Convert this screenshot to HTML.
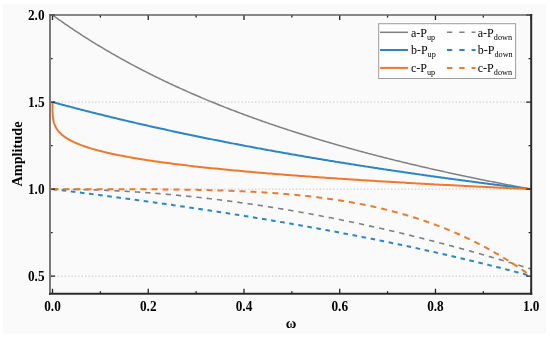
<!DOCTYPE html>
<html><head><meta charset="utf-8"><style>
html,body{margin:0;padding:0;background:#fff;}
svg{display:block;}
</style></head><body>
<svg width="550" height="341" viewBox="0 0 550 341">
<rect x="3" y="4" width="543" height="330" fill="#fafafa"/>
<line x1="51.0" y1="276.19" x2="530.2" y2="276.19" stroke="#c6c6c6" stroke-width="1" stroke-dasharray="1.4 2"/>
<line x1="51.0" y1="189.13" x2="530.2" y2="189.13" stroke="#c6c6c6" stroke-width="1" stroke-dasharray="1.4 2"/>
<line x1="51.0" y1="102.06" x2="530.2" y2="102.06" stroke="#c6c6c6" stroke-width="1" stroke-dasharray="1.4 2"/>
<path d="M52.50,189.13 L53.70,189.13 L54.90,189.14 L56.10,189.14 L57.30,189.15 L58.50,189.15 L59.70,189.16 L60.90,189.17 L62.10,189.18 L63.30,189.19 L64.50,189.20 L65.70,189.22 L66.90,189.23 L68.10,189.25 L69.30,189.26 L70.50,189.28 L71.70,189.30 L72.90,189.32 L74.10,189.34 L75.30,189.36 L76.49,189.39 L77.69,189.41 L78.89,189.44 L80.09,189.47 L81.29,189.49 L82.49,189.52 L83.69,189.55 L84.89,189.58 L86.09,189.62 L87.29,189.65 L88.49,189.68 L89.69,189.72 L90.89,189.76 L92.09,189.79 L93.29,189.83 L94.49,189.87 L95.69,189.91 L96.89,189.96 L98.09,190.00 L99.29,190.04 L100.49,190.09 L101.69,190.14 L102.89,190.18 L104.09,190.23 L105.29,190.28 L106.49,190.33 L107.69,190.39 L108.89,190.44 L110.09,190.49 L111.29,190.55 L112.49,190.61 L113.69,190.66 L114.89,190.72 L116.09,190.78 L117.29,190.84 L118.49,190.90 L119.69,190.97 L120.89,191.03 L122.09,191.10 L123.29,191.16 L124.48,191.23 L125.68,191.30 L126.88,191.37 L128.08,191.44 L129.28,191.51 L130.48,191.58 L131.68,191.65 L132.88,191.73 L134.08,191.81 L135.28,191.88 L136.48,191.96 L137.68,192.04 L138.88,192.12 L140.08,192.20 L141.28,192.28 L142.48,192.36 L143.68,192.45 L144.88,192.53 L146.08,192.62 L147.28,192.71 L148.48,192.80 L149.68,192.89 L150.88,192.98 L152.08,193.07 L153.28,193.16 L154.48,193.25 L155.68,193.35 L156.88,193.44 L158.08,193.54 L159.28,193.64 L160.48,193.74 L161.68,193.84 L162.88,193.94 L164.08,194.04 L165.28,194.14 L166.48,194.25 L167.68,194.35 L168.88,194.46 L170.08,194.57 L171.28,194.67 L172.47,194.78 L173.67,194.89 L174.87,195.00 L176.07,195.12 L177.27,195.23 L178.47,195.34 L179.67,195.46 L180.87,195.58 L182.07,195.69 L183.27,195.81 L184.47,195.93 L185.67,196.05 L186.87,196.17 L188.07,196.30 L189.27,196.42 L190.47,196.54 L191.67,196.67 L192.87,196.80 L194.07,196.92 L195.27,197.05 L196.47,197.18 L197.67,197.31 L198.87,197.44 L200.07,197.58 L201.27,197.71 L202.47,197.84 L203.67,197.98 L204.87,198.12 L206.07,198.25 L207.27,198.39 L208.47,198.53 L209.67,198.67 L210.87,198.81 L212.07,198.96 L213.27,199.10 L214.47,199.25 L215.67,199.39 L216.87,199.54 L218.07,199.69 L219.27,199.83 L220.46,199.98 L221.66,200.13 L222.86,200.29 L224.06,200.44 L225.26,200.59 L226.46,200.75 L227.66,200.90 L228.86,201.06 L230.06,201.22 L231.26,201.37 L232.46,201.53 L233.66,201.69 L234.86,201.86 L236.06,202.02 L237.26,202.18 L238.46,202.35 L239.66,202.51 L240.86,202.68 L242.06,202.84 L243.26,203.01 L244.46,203.18 L245.66,203.35 L246.86,203.52 L248.06,203.69 L249.26,203.87 L250.46,204.04 L251.66,204.22 L252.86,204.39 L254.06,204.57 L255.26,204.75 L256.46,204.93 L257.66,205.11 L258.86,205.29 L260.06,205.47 L261.26,205.65 L262.46,205.83 L263.66,206.02 L264.86,206.20 L266.06,206.39 L267.26,206.58 L268.45,206.77 L269.65,206.95 L270.85,207.14 L272.05,207.34 L273.25,207.53 L274.45,207.72 L275.65,207.91 L276.85,208.11 L278.05,208.31 L279.25,208.50 L280.45,208.70 L281.65,208.90 L282.85,209.10 L284.05,209.30 L285.25,209.50 L286.45,209.70 L287.65,209.91 L288.85,210.11 L290.05,210.32 L291.25,210.52 L292.45,210.73 L293.65,210.94 L294.85,211.15 L296.05,211.36 L297.25,211.57 L298.45,211.78 L299.65,211.99 L300.85,212.20 L302.05,212.42 L303.25,212.63 L304.45,212.85 L305.65,213.07 L306.85,213.29 L308.05,213.50 L309.25,213.72 L310.45,213.94 L311.65,214.17 L312.85,214.39 L314.05,214.61 L315.25,214.84 L316.44,215.06 L317.64,215.29 L318.84,215.52 L320.04,215.74 L321.24,215.97 L322.44,216.20 L323.64,216.43 L324.84,216.67 L326.04,216.90 L327.24,217.13 L328.44,217.37 L329.64,217.60 L330.84,217.84 L332.04,218.07 L333.24,218.31 L334.44,218.55 L335.64,218.79 L336.84,219.03 L338.04,219.27 L339.24,219.52 L340.44,219.76 L341.64,220.00 L342.84,220.25 L344.04,220.49 L345.24,220.74 L346.44,220.99 L347.64,221.24 L348.84,221.49 L350.04,221.74 L351.24,221.99 L352.44,222.24 L353.64,222.49 L354.84,222.75 L356.04,223.00 L357.24,223.26 L358.44,223.51 L359.64,223.77 L360.84,224.03 L362.04,224.29 L363.24,224.55 L364.43,224.81 L365.63,225.07 L366.83,225.33 L368.03,225.60 L369.23,225.86 L370.43,226.13 L371.63,226.39 L372.83,226.66 L374.03,226.93 L375.23,227.20 L376.43,227.46 L377.63,227.74 L378.83,228.01 L380.03,228.28 L381.23,228.55 L382.43,228.82 L383.63,229.10 L384.83,229.37 L386.03,229.65 L387.23,229.93 L388.43,230.21 L389.63,230.48 L390.83,230.76 L392.03,231.04 L393.23,231.33 L394.43,231.61 L395.63,231.89 L396.83,232.18 L398.03,232.46 L399.23,232.75 L400.43,233.03 L401.63,233.32 L402.83,233.61 L404.03,233.90 L405.23,234.19 L406.43,234.48 L407.63,234.77 L408.83,235.06 L410.03,235.35 L411.23,235.65 L412.42,235.94 L413.62,236.24 L414.82,236.53 L416.02,236.83 L417.22,237.13 L418.42,237.43 L419.62,237.73 L420.82,238.03 L422.02,238.33 L423.22,238.63 L424.42,238.93 L425.62,239.24 L426.82,239.54 L428.02,239.84 L429.22,240.15 L430.42,240.46 L431.62,240.77 L432.82,241.07 L434.02,241.38 L435.22,241.69 L436.42,242.00 L437.62,242.32 L438.82,242.63 L440.02,242.94 L441.22,243.26 L442.42,243.57 L443.62,243.89 L444.82,244.20 L446.02,244.52 L447.22,244.84 L448.42,245.16 L449.62,245.48 L450.82,245.80 L452.02,246.12 L453.22,246.44 L454.42,246.76 L455.62,247.09 L456.82,247.41 L458.02,247.74 L459.22,248.06 L460.41,248.39 L461.61,248.72 L462.81,249.05 L464.01,249.37 L465.21,249.70 L466.41,250.04 L467.61,250.37 L468.81,250.70 L470.01,251.03 L471.21,251.37 L472.41,251.70 L473.61,252.04 L474.81,252.37 L476.01,252.71 L477.21,253.05 L478.41,253.38 L479.61,253.72 L480.81,254.06 L482.01,254.40 L483.21,254.75 L484.41,255.09 L485.61,255.43 L486.81,255.77 L488.01,256.12 L489.21,256.46 L490.41,256.81 L491.61,257.16 L492.81,257.51 L494.01,257.85 L495.21,258.20 L496.41,258.55 L497.61,258.90 L498.81,259.25 L500.01,259.61 L501.21,259.96 L502.41,260.31 L503.61,260.67 L504.81,261.02 L506.01,261.38 L507.21,261.73 L508.40,262.09 L509.60,262.45 L510.80,262.81 L512.00,263.17 L513.20,263.53 L514.40,263.89 L515.60,264.25 L516.80,264.61 L518.00,264.98 L519.20,265.34 L520.40,265.71 L521.60,266.07 L522.80,266.44 L524.00,266.80 L525.20,267.17 L526.40,267.54 L527.60,267.91 L528.80,268.28 L530.00,268.65 L531.20,269.02" fill="none" stroke="#808080" stroke-width="1.6" stroke-dasharray="5.3 5"/>
<path d="M52.50,189.13 L53.70,189.28 L54.90,189.43 L56.10,189.58 L57.30,189.72 L58.50,189.87 L59.70,190.02 L60.90,190.17 L62.10,190.32 L63.30,190.47 L64.50,190.62 L65.70,190.77 L66.90,190.92 L68.10,191.07 L69.30,191.22 L70.50,191.37 L71.70,191.52 L72.90,191.67 L74.10,191.83 L75.30,191.98 L76.49,192.13 L77.69,192.28 L78.89,192.43 L80.09,192.59 L81.29,192.74 L82.49,192.89 L83.69,193.04 L84.89,193.20 L86.09,193.35 L87.29,193.50 L88.49,193.66 L89.69,193.81 L90.89,193.97 L92.09,194.12 L93.29,194.28 L94.49,194.43 L95.69,194.59 L96.89,194.74 L98.09,194.90 L99.29,195.05 L100.49,195.21 L101.69,195.36 L102.89,195.52 L104.09,195.68 L105.29,195.83 L106.49,195.99 L107.69,196.15 L108.89,196.31 L110.09,196.47 L111.29,196.62 L112.49,196.78 L113.69,196.94 L114.89,197.10 L116.09,197.26 L117.29,197.42 L118.49,197.58 L119.69,197.74 L120.89,197.90 L122.09,198.06 L123.29,198.22 L124.48,198.38 L125.68,198.54 L126.88,198.70 L128.08,198.86 L129.28,199.03 L130.48,199.19 L131.68,199.35 L132.88,199.51 L134.08,199.68 L135.28,199.84 L136.48,200.00 L137.68,200.17 L138.88,200.33 L140.08,200.49 L141.28,200.66 L142.48,200.82 L143.68,200.99 L144.88,201.15 L146.08,201.32 L147.28,201.49 L148.48,201.65 L149.68,201.82 L150.88,201.98 L152.08,202.15 L153.28,202.32 L154.48,202.49 L155.68,202.65 L156.88,202.82 L158.08,202.99 L159.28,203.16 L160.48,203.33 L161.68,203.50 L162.88,203.67 L164.08,203.84 L165.28,204.01 L166.48,204.18 L167.68,204.35 L168.88,204.52 L170.08,204.69 L171.28,204.86 L172.47,205.04 L173.67,205.21 L174.87,205.38 L176.07,205.55 L177.27,205.73 L178.47,205.90 L179.67,206.07 L180.87,206.25 L182.07,206.42 L183.27,206.60 L184.47,206.77 L185.67,206.95 L186.87,207.12 L188.07,207.30 L189.27,207.48 L190.47,207.65 L191.67,207.83 L192.87,208.01 L194.07,208.19 L195.27,208.36 L196.47,208.54 L197.67,208.72 L198.87,208.90 L200.07,209.08 L201.27,209.26 L202.47,209.44 L203.67,209.62 L204.87,209.80 L206.07,209.98 L207.27,210.16 L208.47,210.34 L209.67,210.53 L210.87,210.71 L212.07,210.89 L213.27,211.08 L214.47,211.26 L215.67,211.44 L216.87,211.63 L218.07,211.81 L219.27,212.00 L220.46,212.18 L221.66,212.37 L222.86,212.55 L224.06,212.74 L225.26,212.93 L226.46,213.11 L227.66,213.30 L228.86,213.49 L230.06,213.68 L231.26,213.87 L232.46,214.05 L233.66,214.24 L234.86,214.43 L236.06,214.62 L237.26,214.81 L238.46,215.00 L239.66,215.20 L240.86,215.39 L242.06,215.58 L243.26,215.77 L244.46,215.96 L245.66,216.16 L246.86,216.35 L248.06,216.54 L249.26,216.74 L250.46,216.93 L251.66,217.13 L252.86,217.32 L254.06,217.52 L255.26,217.72 L256.46,217.91 L257.66,218.11 L258.86,218.31 L260.06,218.50 L261.26,218.70 L262.46,218.90 L263.66,219.10 L264.86,219.30 L266.06,219.50 L267.26,219.70 L268.45,219.90 L269.65,220.10 L270.85,220.30 L272.05,220.50 L273.25,220.71 L274.45,220.91 L275.65,221.11 L276.85,221.32 L278.05,221.52 L279.25,221.72 L280.45,221.93 L281.65,222.13 L282.85,222.34 L284.05,222.55 L285.25,222.75 L286.45,222.96 L287.65,223.17 L288.85,223.37 L290.05,223.58 L291.25,223.79 L292.45,224.00 L293.65,224.21 L294.85,224.42 L296.05,224.63 L297.25,224.84 L298.45,225.05 L299.65,225.26 L300.85,225.47 L302.05,225.69 L303.25,225.90 L304.45,226.11 L305.65,226.33 L306.85,226.54 L308.05,226.76 L309.25,226.97 L310.45,227.19 L311.65,227.40 L312.85,227.62 L314.05,227.84 L315.25,228.06 L316.44,228.27 L317.64,228.49 L318.84,228.71 L320.04,228.93 L321.24,229.15 L322.44,229.37 L323.64,229.59 L324.84,229.81 L326.04,230.03 L327.24,230.26 L328.44,230.48 L329.64,230.70 L330.84,230.93 L332.04,231.15 L333.24,231.37 L334.44,231.60 L335.64,231.82 L336.84,232.05 L338.04,232.28 L339.24,232.50 L340.44,232.73 L341.64,232.96 L342.84,233.19 L344.04,233.42 L345.24,233.65 L346.44,233.88 L347.64,234.11 L348.84,234.34 L350.04,234.57 L351.24,234.80 L352.44,235.03 L353.64,235.27 L354.84,235.50 L356.04,235.73 L357.24,235.97 L358.44,236.20 L359.64,236.44 L360.84,236.67 L362.04,236.91 L363.24,237.15 L364.43,237.39 L365.63,237.62 L366.83,237.86 L368.03,238.10 L369.23,238.34 L370.43,238.58 L371.63,238.82 L372.83,239.06 L374.03,239.30 L375.23,239.55 L376.43,239.79 L377.63,240.03 L378.83,240.28 L380.03,240.52 L381.23,240.76 L382.43,241.01 L383.63,241.26 L384.83,241.50 L386.03,241.75 L387.23,242.00 L388.43,242.24 L389.63,242.49 L390.83,242.74 L392.03,242.99 L393.23,243.24 L394.43,243.49 L395.63,243.74 L396.83,243.99 L398.03,244.25 L399.23,244.50 L400.43,244.75 L401.63,245.01 L402.83,245.26 L404.03,245.52 L405.23,245.77 L406.43,246.03 L407.63,246.29 L408.83,246.54 L410.03,246.80 L411.23,247.06 L412.42,247.32 L413.62,247.58 L414.82,247.84 L416.02,248.10 L417.22,248.36 L418.42,248.62 L419.62,248.88 L420.82,249.15 L422.02,249.41 L423.22,249.68 L424.42,249.94 L425.62,250.21 L426.82,250.47 L428.02,250.74 L429.22,251.00 L430.42,251.27 L431.62,251.54 L432.82,251.81 L434.02,252.08 L435.22,252.35 L436.42,252.62 L437.62,252.89 L438.82,253.16 L440.02,253.43 L441.22,253.71 L442.42,253.98 L443.62,254.25 L444.82,254.53 L446.02,254.80 L447.22,255.08 L448.42,255.36 L449.62,255.63 L450.82,255.91 L452.02,256.19 L453.22,256.47 L454.42,256.75 L455.62,257.03 L456.82,257.31 L458.02,257.59 L459.22,257.87 L460.41,258.16 L461.61,258.44 L462.81,258.72 L464.01,259.01 L465.21,259.29 L466.41,259.58 L467.61,259.86 L468.81,260.15 L470.01,260.44 L471.21,260.73 L472.41,261.02 L473.61,261.31 L474.81,261.60 L476.01,261.89 L477.21,262.18 L478.41,262.47 L479.61,262.76 L480.81,263.06 L482.01,263.35 L483.21,263.64 L484.41,263.94 L485.61,264.24 L486.81,264.53 L488.01,264.83 L489.21,265.13 L490.41,265.43 L491.61,265.73 L492.81,266.02 L494.01,266.33 L495.21,266.63 L496.41,266.93 L497.61,267.23 L498.81,267.53 L500.01,267.84 L501.21,268.14 L502.41,268.45 L503.61,268.75 L504.81,269.06 L506.01,269.37 L507.21,269.67 L508.40,269.98 L509.60,270.29 L510.80,270.60 L512.00,270.91 L513.20,271.22 L514.40,271.53 L515.60,271.85 L516.80,272.16 L518.00,272.47 L519.20,272.79 L520.40,273.10 L521.60,273.42 L522.80,273.73 L524.00,274.05 L525.20,274.37 L526.40,274.69 L527.60,275.01 L528.80,275.33 L530.00,275.65 L531.20,275.97" fill="none" stroke="#2a86c4" stroke-width="2" stroke-dasharray="4.6 4.6"/>
<path d="M52.50,189.13 L53.70,189.13 L54.90,189.13 L56.10,189.13 L57.30,189.13 L58.50,189.13 L59.70,189.13 L60.90,189.13 L62.10,189.13 L63.30,189.13 L64.50,189.13 L65.70,189.13 L66.90,189.13 L68.10,189.13 L69.30,189.13 L70.50,189.13 L71.70,189.13 L72.90,189.13 L74.10,189.13 L75.30,189.13 L76.49,189.13 L77.69,189.13 L78.89,189.13 L80.09,189.13 L81.29,189.13 L82.49,189.13 L83.69,189.13 L84.89,189.13 L86.09,189.13 L87.29,189.13 L88.49,189.13 L89.69,189.13 L90.89,189.13 L92.09,189.13 L93.29,189.13 L94.49,189.14 L95.69,189.14 L96.89,189.14 L98.09,189.14 L99.29,189.14 L100.49,189.14 L101.69,189.14 L102.89,189.14 L104.09,189.14 L105.29,189.14 L106.49,189.14 L107.69,189.15 L108.89,189.15 L110.09,189.15 L111.29,189.15 L112.49,189.15 L113.69,189.15 L114.89,189.16 L116.09,189.16 L117.29,189.16 L118.49,189.16 L119.69,189.16 L120.89,189.17 L122.09,189.17 L123.29,189.17 L124.48,189.17 L125.68,189.18 L126.88,189.18 L128.08,189.18 L129.28,189.19 L130.48,189.19 L131.68,189.20 L132.88,189.20 L134.08,189.20 L135.28,189.21 L136.48,189.21 L137.68,189.22 L138.88,189.22 L140.08,189.23 L141.28,189.23 L142.48,189.24 L143.68,189.24 L144.88,189.25 L146.08,189.26 L147.28,189.26 L148.48,189.27 L149.68,189.28 L150.88,189.29 L152.08,189.29 L153.28,189.30 L154.48,189.31 L155.68,189.32 L156.88,189.33 L158.08,189.34 L159.28,189.35 L160.48,189.36 L161.68,189.37 L162.88,189.38 L164.08,189.39 L165.28,189.40 L166.48,189.41 L167.68,189.42 L168.88,189.43 L170.08,189.45 L171.28,189.46 L172.47,189.47 L173.67,189.49 L174.87,189.50 L176.07,189.52 L177.27,189.53 L178.47,189.55 L179.67,189.56 L180.87,189.58 L182.07,189.60 L183.27,189.61 L184.47,189.63 L185.67,189.65 L186.87,189.67 L188.07,189.69 L189.27,189.71 L190.47,189.73 L191.67,189.75 L192.87,189.77 L194.07,189.80 L195.27,189.82 L196.47,189.84 L197.67,189.87 L198.87,189.89 L200.07,189.92 L201.27,189.94 L202.47,189.97 L203.67,190.00 L204.87,190.02 L206.07,190.05 L207.27,190.08 L208.47,190.11 L209.67,190.14 L210.87,190.17 L212.07,190.20 L213.27,190.24 L214.47,190.27 L215.67,190.31 L216.87,190.34 L218.07,190.38 L219.27,190.41 L220.46,190.45 L221.66,190.49 L222.86,190.53 L224.06,190.57 L225.26,190.61 L226.46,190.65 L227.66,190.69 L228.86,190.73 L230.06,190.78 L231.26,190.82 L232.46,190.87 L233.66,190.92 L234.86,190.96 L236.06,191.01 L237.26,191.06 L238.46,191.11 L239.66,191.16 L240.86,191.22 L242.06,191.27 L243.26,191.33 L244.46,191.38 L245.66,191.44 L246.86,191.50 L248.06,191.55 L249.26,191.62 L250.46,191.68 L251.66,191.74 L252.86,191.80 L254.06,191.87 L255.26,191.93 L256.46,192.00 L257.66,192.07 L258.86,192.14 L260.06,192.21 L261.26,192.28 L262.46,192.35 L263.66,192.43 L264.86,192.50 L266.06,192.58 L267.26,192.66 L268.45,192.74 L269.65,192.82 L270.85,192.90 L272.05,192.98 L273.25,193.07 L274.45,193.15 L275.65,193.24 L276.85,193.33 L278.05,193.42 L279.25,193.51 L280.45,193.61 L281.65,193.70 L282.85,193.80 L284.05,193.90 L285.25,194.00 L286.45,194.10 L287.65,194.20 L288.85,194.30 L290.05,194.41 L291.25,194.52 L292.45,194.63 L293.65,194.74 L294.85,194.85 L296.05,194.96 L297.25,195.08 L298.45,195.20 L299.65,195.32 L300.85,195.44 L302.05,195.56 L303.25,195.68 L304.45,195.81 L305.65,195.94 L306.85,196.07 L308.05,196.20 L309.25,196.33 L310.45,196.47 L311.65,196.61 L312.85,196.75 L314.05,196.89 L315.25,197.03 L316.44,197.18 L317.64,197.32 L318.84,197.47 L320.04,197.63 L321.24,197.78 L322.44,197.93 L323.64,198.09 L324.84,198.25 L326.04,198.41 L327.24,198.58 L328.44,198.74 L329.64,198.91 L330.84,199.08 L332.04,199.25 L333.24,199.43 L334.44,199.61 L335.64,199.79 L336.84,199.97 L338.04,200.15 L339.24,200.34 L340.44,200.53 L341.64,200.72 L342.84,200.91 L344.04,201.11 L345.24,201.31 L346.44,201.51 L347.64,201.71 L348.84,201.92 L350.04,202.12 L351.24,202.34 L352.44,202.55 L353.64,202.76 L354.84,202.98 L356.04,203.20 L357.24,203.43 L358.44,203.65 L359.64,203.88 L360.84,204.12 L362.04,204.35 L363.24,204.59 L364.43,204.83 L365.63,205.07 L366.83,205.32 L368.03,205.57 L369.23,205.82 L370.43,206.07 L371.63,206.33 L372.83,206.59 L374.03,206.85 L375.23,207.12 L376.43,207.39 L377.63,207.66 L378.83,207.93 L380.03,208.21 L381.23,208.49 L382.43,208.78 L383.63,209.06 L384.83,209.35 L386.03,209.65 L387.23,209.94 L388.43,210.24 L389.63,210.55 L390.83,210.85 L392.03,211.16 L393.23,211.48 L394.43,211.79 L395.63,212.11 L396.83,212.44 L398.03,212.76 L399.23,213.09 L400.43,213.43 L401.63,213.76 L402.83,214.10 L404.03,214.45 L405.23,214.80 L406.43,215.15 L407.63,215.50 L408.83,215.86 L410.03,216.22 L411.23,216.59 L412.42,216.96 L413.62,217.33 L414.82,217.70 L416.02,218.08 L417.22,218.47 L418.42,218.86 L419.62,219.25 L420.82,219.64 L422.02,220.04 L423.22,220.45 L424.42,220.85 L425.62,221.27 L426.82,221.68 L428.02,222.10 L429.22,222.52 L430.42,222.95 L431.62,223.38 L432.82,223.82 L434.02,224.26 L435.22,224.70 L436.42,225.15 L437.62,225.60 L438.82,226.06 L440.02,226.52 L441.22,226.99 L442.42,227.46 L443.62,227.93 L444.82,228.41 L446.02,228.89 L447.22,229.38 L448.42,229.87 L449.62,230.36 L450.82,230.87 L452.02,231.37 L453.22,231.88 L454.42,232.39 L455.62,232.91 L456.82,233.44 L458.02,233.97 L459.22,234.50 L460.41,235.04 L461.61,235.58 L462.81,236.13 L464.01,236.68 L465.21,237.23 L466.41,237.80 L467.61,238.36 L468.81,238.93 L470.01,239.51 L471.21,240.09 L472.41,240.68 L473.61,241.27 L474.81,241.87 L476.01,242.47 L477.21,243.08 L478.41,243.69 L479.61,244.31 L480.81,244.93 L482.01,245.56 L483.21,246.19 L484.41,246.83 L485.61,247.47 L486.81,248.12 L488.01,248.78 L489.21,249.44 L490.41,250.10 L491.61,250.77 L492.81,251.45 L494.01,252.13 L495.21,252.82 L496.41,253.51 L497.61,254.21 L498.81,254.91 L500.01,255.62 L501.21,256.34 L502.41,257.06 L503.61,257.79 L504.81,258.52 L506.01,259.26 L507.21,260.01 L508.40,260.76 L509.60,261.52 L510.80,262.28 L512.00,263.05 L513.20,263.82 L514.40,264.60 L515.60,265.39 L516.80,266.18 L518.00,266.98 L519.20,267.79 L520.40,268.60 L521.60,269.42 L522.80,270.24 L524.00,271.07 L525.20,271.91 L526.40,272.76 L527.60,273.61 L528.80,274.46 L530.00,275.33 L531.20,276.19" fill="none" stroke="#f0782a" stroke-width="2" stroke-dasharray="6 5"/>
<path d="M52.50,15.00 L53.70,15.87 L54.90,16.74 L56.10,17.60 L57.30,18.46 L58.50,19.31 L59.70,20.16 L60.90,21.00 L62.10,21.85 L63.30,22.68 L64.50,23.51 L65.70,24.34 L66.90,25.17 L68.10,25.99 L69.30,26.81 L70.50,27.62 L71.70,28.43 L72.90,29.23 L74.10,30.03 L75.30,30.83 L76.49,31.62 L77.69,32.41 L78.89,33.20 L80.09,33.98 L81.29,34.76 L82.49,35.53 L83.69,36.31 L84.89,37.07 L86.09,37.84 L87.29,38.60 L88.49,39.35 L89.69,40.11 L90.89,40.86 L92.09,41.60 L93.29,42.35 L94.49,43.09 L95.69,43.82 L96.89,44.55 L98.09,45.28 L99.29,46.01 L100.49,46.73 L101.69,47.45 L102.89,48.17 L104.09,48.88 L105.29,49.59 L106.49,50.30 L107.69,51.00 L108.89,51.70 L110.09,52.40 L111.29,53.09 L112.49,53.78 L113.69,54.47 L114.89,55.15 L116.09,55.84 L117.29,56.51 L118.49,57.19 L119.69,57.86 L120.89,58.53 L122.09,59.20 L123.29,59.86 L124.48,60.52 L125.68,61.18 L126.88,61.84 L128.08,62.49 L129.28,63.14 L130.48,63.79 L131.68,64.43 L132.88,65.07 L134.08,65.71 L135.28,66.35 L136.48,66.98 L137.68,67.61 L138.88,68.24 L140.08,68.86 L141.28,69.48 L142.48,70.10 L143.68,70.72 L144.88,71.34 L146.08,71.95 L147.28,72.56 L148.48,73.16 L149.68,73.77 L150.88,74.37 L152.08,74.97 L153.28,75.57 L154.48,76.16 L155.68,76.75 L156.88,77.34 L158.08,77.93 L159.28,78.51 L160.48,79.10 L161.68,79.68 L162.88,80.25 L164.08,80.83 L165.28,81.40 L166.48,81.97 L167.68,82.54 L168.88,83.11 L170.08,83.67 L171.28,84.23 L172.47,84.79 L173.67,85.35 L174.87,85.90 L176.07,86.46 L177.27,87.01 L178.47,87.55 L179.67,88.10 L180.87,88.64 L182.07,89.19 L183.27,89.73 L184.47,90.26 L185.67,90.80 L186.87,91.33 L188.07,91.86 L189.27,92.39 L190.47,92.92 L191.67,93.44 L192.87,93.97 L194.07,94.49 L195.27,95.01 L196.47,95.52 L197.67,96.04 L198.87,96.55 L200.07,97.06 L201.27,97.57 L202.47,98.08 L203.67,98.58 L204.87,99.09 L206.07,99.59 L207.27,100.09 L208.47,100.58 L209.67,101.08 L210.87,101.57 L212.07,102.06 L213.27,102.56 L214.47,103.04 L215.67,103.53 L216.87,104.01 L218.07,104.50 L219.27,104.98 L220.46,105.46 L221.66,105.93 L222.86,106.41 L224.06,106.88 L225.26,107.36 L226.46,107.83 L227.66,108.30 L228.86,108.76 L230.06,109.23 L231.26,109.69 L232.46,110.15 L233.66,110.61 L234.86,111.07 L236.06,111.53 L237.26,111.98 L238.46,112.44 L239.66,112.89 L240.86,113.34 L242.06,113.79 L243.26,114.24 L244.46,114.68 L245.66,115.12 L246.86,115.57 L248.06,116.01 L249.26,116.45 L250.46,116.88 L251.66,117.32 L252.86,117.76 L254.06,118.19 L255.26,118.62 L256.46,119.05 L257.66,119.48 L258.86,119.90 L260.06,120.33 L261.26,120.75 L262.46,121.18 L263.66,121.60 L264.86,122.02 L266.06,122.44 L267.26,122.85 L268.45,123.27 L269.65,123.68 L270.85,124.09 L272.05,124.50 L273.25,124.91 L274.45,125.32 L275.65,125.73 L276.85,126.13 L278.05,126.54 L279.25,126.94 L280.45,127.34 L281.65,127.74 L282.85,128.14 L284.05,128.54 L285.25,128.93 L286.45,129.33 L287.65,129.72 L288.85,130.11 L290.05,130.50 L291.25,130.89 L292.45,131.28 L293.65,131.67 L294.85,132.05 L296.05,132.44 L297.25,132.82 L298.45,133.20 L299.65,133.58 L300.85,133.96 L302.05,134.34 L303.25,134.71 L304.45,135.09 L305.65,135.46 L306.85,135.84 L308.05,136.21 L309.25,136.58 L310.45,136.95 L311.65,137.32 L312.85,137.68 L314.05,138.05 L315.25,138.41 L316.44,138.78 L317.64,139.14 L318.84,139.50 L320.04,139.86 L321.24,140.22 L322.44,140.57 L323.64,140.93 L324.84,141.29 L326.04,141.64 L327.24,141.99 L328.44,142.34 L329.64,142.70 L330.84,143.04 L332.04,143.39 L333.24,143.74 L334.44,144.09 L335.64,144.43 L336.84,144.78 L338.04,145.12 L339.24,145.46 L340.44,145.80 L341.64,146.14 L342.84,146.48 L344.04,146.82 L345.24,147.15 L346.44,147.49 L347.64,147.82 L348.84,148.16 L350.04,148.49 L351.24,148.82 L352.44,149.15 L353.64,149.48 L354.84,149.81 L356.04,150.14 L357.24,150.46 L358.44,150.79 L359.64,151.11 L360.84,151.44 L362.04,151.76 L363.24,152.08 L364.43,152.40 L365.63,152.72 L366.83,153.04 L368.03,153.36 L369.23,153.67 L370.43,153.99 L371.63,154.30 L372.83,154.62 L374.03,154.93 L375.23,155.24 L376.43,155.55 L377.63,155.86 L378.83,156.17 L380.03,156.48 L381.23,156.79 L382.43,157.09 L383.63,157.40 L384.83,157.70 L386.03,158.01 L387.23,158.31 L388.43,158.61 L389.63,158.91 L390.83,159.21 L392.03,159.51 L393.23,159.81 L394.43,160.11 L395.63,160.40 L396.83,160.70 L398.03,161.00 L399.23,161.29 L400.43,161.58 L401.63,161.87 L402.83,162.17 L404.03,162.46 L405.23,162.75 L406.43,163.04 L407.63,163.32 L408.83,163.61 L410.03,163.90 L411.23,164.18 L412.42,164.47 L413.62,164.75 L414.82,165.03 L416.02,165.32 L417.22,165.60 L418.42,165.88 L419.62,166.16 L420.82,166.44 L422.02,166.72 L423.22,166.99 L424.42,167.27 L425.62,167.55 L426.82,167.82 L428.02,168.10 L429.22,168.37 L430.42,168.64 L431.62,168.92 L432.82,169.19 L434.02,169.46 L435.22,169.73 L436.42,170.00 L437.62,170.27 L438.82,170.53 L440.02,170.80 L441.22,171.07 L442.42,171.33 L443.62,171.60 L444.82,171.86 L446.02,172.12 L447.22,172.39 L448.42,172.65 L449.62,172.91 L450.82,173.17 L452.02,173.43 L453.22,173.69 L454.42,173.95 L455.62,174.20 L456.82,174.46 L458.02,174.72 L459.22,174.97 L460.41,175.23 L461.61,175.48 L462.81,175.74 L464.01,175.99 L465.21,176.24 L466.41,176.49 L467.61,176.74 L468.81,176.99 L470.01,177.24 L471.21,177.49 L472.41,177.74 L473.61,177.99 L474.81,178.23 L476.01,178.48 L477.21,178.72 L478.41,178.97 L479.61,179.21 L480.81,179.46 L482.01,179.70 L483.21,179.94 L484.41,180.18 L485.61,180.42 L486.81,180.66 L488.01,180.90 L489.21,181.14 L490.41,181.38 L491.61,181.62 L492.81,181.86 L494.01,182.09 L495.21,182.33 L496.41,182.56 L497.61,182.80 L498.81,183.03 L500.01,183.27 L501.21,183.50 L502.41,183.73 L503.61,183.96 L504.81,184.19 L506.01,184.42 L507.21,184.65 L508.40,184.88 L509.60,185.11 L510.80,185.34 L512.00,185.57 L513.20,185.79 L514.40,186.02 L515.60,186.25 L516.80,186.47 L518.00,186.70 L519.20,186.92 L520.40,187.14 L521.60,187.37 L522.80,187.59 L524.00,187.81 L525.20,188.03 L526.40,188.25 L527.60,188.47 L528.80,188.69 L530.00,188.91 L531.20,189.13" fill="none" stroke="#808080" stroke-width="1.5" stroke-linejoin="round"/>
<path d="M52.50,102.06 L53.70,102.39 L54.90,102.72 L56.10,103.04 L57.30,103.37 L58.50,103.69 L59.70,104.01 L60.90,104.34 L62.10,104.66 L63.30,104.98 L64.50,105.30 L65.70,105.62 L66.90,105.93 L68.10,106.25 L69.30,106.57 L70.50,106.88 L71.70,107.20 L72.90,107.51 L74.10,107.83 L75.30,108.14 L76.49,108.45 L77.69,108.76 L78.89,109.07 L80.09,109.38 L81.29,109.69 L82.49,110.00 L83.69,110.31 L84.89,110.61 L86.09,110.92 L87.29,111.22 L88.49,111.53 L89.69,111.83 L90.89,112.14 L92.09,112.44 L93.29,112.74 L94.49,113.04 L95.69,113.34 L96.89,113.64 L98.09,113.94 L99.29,114.24 L100.49,114.53 L101.69,114.83 L102.89,115.12 L104.09,115.42 L105.29,115.71 L106.49,116.01 L107.69,116.30 L108.89,116.59 L110.09,116.88 L111.29,117.18 L112.49,117.47 L113.69,117.76 L114.89,118.04 L116.09,118.33 L117.29,118.62 L118.49,118.91 L119.69,119.19 L120.89,119.48 L122.09,119.76 L123.29,120.05 L124.48,120.33 L125.68,120.61 L126.88,120.90 L128.08,121.18 L129.28,121.46 L130.48,121.74 L131.68,122.02 L132.88,122.30 L134.08,122.57 L135.28,122.85 L136.48,123.13 L137.68,123.41 L138.88,123.68 L140.08,123.96 L141.28,124.23 L142.48,124.50 L143.68,124.78 L144.88,125.05 L146.08,125.32 L147.28,125.59 L148.48,125.86 L149.68,126.13 L150.88,126.40 L152.08,126.67 L153.28,126.94 L154.48,127.21 L155.68,127.48 L156.88,127.74 L158.08,128.01 L159.28,128.27 L160.48,128.54 L161.68,128.80 L162.88,129.06 L164.08,129.33 L165.28,129.59 L166.48,129.85 L167.68,130.11 L168.88,130.37 L170.08,130.63 L171.28,130.89 L172.47,131.15 L173.67,131.41 L174.87,131.67 L176.07,131.92 L177.27,132.18 L178.47,132.44 L179.67,132.69 L180.87,132.95 L182.07,133.20 L183.27,133.45 L184.47,133.71 L185.67,133.96 L186.87,134.21 L188.07,134.46 L189.27,134.71 L190.47,134.96 L191.67,135.21 L192.87,135.46 L194.07,135.71 L195.27,135.96 L196.47,136.21 L197.67,136.46 L198.87,136.70 L200.07,136.95 L201.27,137.19 L202.47,137.44 L203.67,137.68 L204.87,137.93 L206.07,138.17 L207.27,138.41 L208.47,138.65 L209.67,138.90 L210.87,139.14 L212.07,139.38 L213.27,139.62 L214.47,139.86 L215.67,140.10 L216.87,140.34 L218.07,140.57 L219.27,140.81 L220.46,141.05 L221.66,141.29 L222.86,141.52 L224.06,141.76 L225.26,141.99 L226.46,142.23 L227.66,142.46 L228.86,142.70 L230.06,142.93 L231.26,143.16 L232.46,143.39 L233.66,143.63 L234.86,143.86 L236.06,144.09 L237.26,144.32 L238.46,144.55 L239.66,144.78 L240.86,145.00 L242.06,145.23 L243.26,145.46 L244.46,145.69 L245.66,145.92 L246.86,146.14 L248.06,146.37 L249.26,146.59 L250.46,146.82 L251.66,147.04 L252.86,147.27 L254.06,147.49 L255.26,147.71 L256.46,147.94 L257.66,148.16 L258.86,148.38 L260.06,148.60 L261.26,148.82 L262.46,149.04 L263.66,149.26 L264.86,149.48 L266.06,149.70 L267.26,149.92 L268.45,150.14 L269.65,150.36 L270.85,150.57 L272.05,150.79 L273.25,151.01 L274.45,151.22 L275.65,151.44 L276.85,151.65 L278.05,151.87 L279.25,152.08 L280.45,152.29 L281.65,152.51 L282.85,152.72 L284.05,152.93 L285.25,153.15 L286.45,153.36 L287.65,153.57 L288.85,153.78 L290.05,153.99 L291.25,154.20 L292.45,154.41 L293.65,154.62 L294.85,154.83 L296.05,155.03 L297.25,155.24 L298.45,155.45 L299.65,155.66 L300.85,155.86 L302.05,156.07 L303.25,156.28 L304.45,156.48 L305.65,156.69 L306.85,156.89 L308.05,157.09 L309.25,157.30 L310.45,157.50 L311.65,157.70 L312.85,157.91 L314.05,158.11 L315.25,158.31 L316.44,158.51 L317.64,158.71 L318.84,158.91 L320.04,159.11 L321.24,159.31 L322.44,159.51 L323.64,159.71 L324.84,159.91 L326.04,160.11 L327.24,160.31 L328.44,160.50 L329.64,160.70 L330.84,160.90 L332.04,161.09 L333.24,161.29 L334.44,161.48 L335.64,161.68 L336.84,161.87 L338.04,162.07 L339.24,162.26 L340.44,162.46 L341.64,162.65 L342.84,162.84 L344.04,163.04 L345.24,163.23 L346.44,163.42 L347.64,163.61 L348.84,163.80 L350.04,163.99 L351.24,164.18 L352.44,164.37 L353.64,164.56 L354.84,164.75 L356.04,164.94 L357.24,165.13 L358.44,165.32 L359.64,165.51 L360.84,165.69 L362.04,165.88 L363.24,166.07 L364.43,166.25 L365.63,166.44 L366.83,166.62 L368.03,166.81 L369.23,166.99 L370.43,167.18 L371.63,167.36 L372.83,167.55 L374.03,167.73 L375.23,167.91 L376.43,168.10 L377.63,168.28 L378.83,168.46 L380.03,168.64 L381.23,168.83 L382.43,169.01 L383.63,169.19 L384.83,169.37 L386.03,169.55 L387.23,169.73 L388.43,169.91 L389.63,170.09 L390.83,170.27 L392.03,170.44 L393.23,170.62 L394.43,170.80 L395.63,170.98 L396.83,171.16 L398.03,171.33 L399.23,171.51 L400.43,171.68 L401.63,171.86 L402.83,172.04 L404.03,172.21 L405.23,172.39 L406.43,172.56 L407.63,172.74 L408.83,172.91 L410.03,173.08 L411.23,173.26 L412.42,173.43 L413.62,173.60 L414.82,173.77 L416.02,173.95 L417.22,174.12 L418.42,174.29 L419.62,174.46 L420.82,174.63 L422.02,174.80 L423.22,174.97 L424.42,175.14 L425.62,175.31 L426.82,175.48 L428.02,175.65 L429.22,175.82 L430.42,175.99 L431.62,176.16 L432.82,176.32 L434.02,176.49 L435.22,176.66 L436.42,176.83 L437.62,176.99 L438.82,177.16 L440.02,177.32 L441.22,177.49 L442.42,177.66 L443.62,177.82 L444.82,177.99 L446.02,178.15 L447.22,178.31 L448.42,178.48 L449.62,178.64 L450.82,178.81 L452.02,178.97 L453.22,179.13 L454.42,179.29 L455.62,179.46 L456.82,179.62 L458.02,179.78 L459.22,179.94 L460.41,180.10 L461.61,180.26 L462.81,180.42 L464.01,180.58 L465.21,180.74 L466.41,180.90 L467.61,181.06 L468.81,181.22 L470.01,181.38 L471.21,181.54 L472.41,181.70 L473.61,181.86 L474.81,182.01 L476.01,182.17 L477.21,182.33 L478.41,182.48 L479.61,182.64 L480.81,182.80 L482.01,182.95 L483.21,183.11 L484.41,183.27 L485.61,183.42 L486.81,183.58 L488.01,183.73 L489.21,183.89 L490.41,184.04 L491.61,184.19 L492.81,184.35 L494.01,184.50 L495.21,184.65 L496.41,184.81 L497.61,184.96 L498.81,185.11 L500.01,185.26 L501.21,185.42 L502.41,185.57 L503.61,185.72 L504.81,185.87 L506.01,186.02 L507.21,186.17 L508.40,186.32 L509.60,186.47 L510.80,186.62 L512.00,186.77 L513.20,186.92 L514.40,187.07 L515.60,187.22 L516.80,187.37 L518.00,187.51 L519.20,187.66 L520.40,187.81 L521.60,187.96 L522.80,188.11 L524.00,188.25 L525.20,188.40 L526.40,188.55 L527.60,188.69 L528.80,188.84 L530.00,188.98 L531.20,189.13" fill="none" stroke="#2a86c4" stroke-width="2" stroke-linejoin="round"/>
<path d="M52.50,102.06 L52.51,107.65 L52.52,108.71 L52.52,109.42 L52.53,109.97 L52.54,110.42 L52.55,110.81 L52.56,111.15 L52.56,111.46 L52.57,111.74 L52.58,112.00 L52.59,112.24 L52.60,112.46 L52.61,112.67 L52.61,112.87 L52.62,113.06 L52.63,113.24 L52.64,113.41 L52.65,113.57 L52.65,113.73 L52.66,113.88 L52.67,114.02 L52.68,114.16 L52.69,114.30 L52.69,114.43 L52.70,114.56 L52.71,114.68 L52.72,114.80 L52.73,114.92 L52.74,115.03 L52.74,115.14 L52.75,115.25 L52.76,115.35 L52.77,115.45 L52.78,115.55 L52.78,115.65 L52.79,115.75 L52.80,115.84 L52.81,115.94 L52.82,116.03 L52.82,116.11 L52.83,116.20 L52.84,116.29 L52.85,116.37 L52.86,116.45 L52.87,116.53 L52.87,116.61 L52.88,116.69 L52.89,116.77 L52.90,116.85 L52.91,116.92 L52.91,116.99 L52.92,117.07 L52.93,117.14 L52.94,117.21 L52.95,117.28 L52.95,117.35 L52.96,117.41 L52.97,117.48 L52.98,117.55 L53.28,119.53 L53.57,121.01 L53.87,122.20 L54.17,123.21 L54.46,124.10 L54.76,124.89 L55.06,125.60 L55.35,126.26 L55.65,126.86 L55.95,127.43 L56.24,127.96 L56.54,128.46 L56.84,128.93 L57.14,129.38 L57.43,129.80 L57.73,130.21 L58.03,130.60 L58.32,130.98 L58.62,131.34 L58.92,131.69 L59.21,132.03 L59.51,132.35 L59.81,132.67 L60.10,132.97 L60.40,133.27 L60.70,133.56 L61.00,133.84 L61.29,134.12 L61.59,134.38 L61.89,134.64 L62.18,134.90 L62.48,135.15 L62.78,135.39 L63.07,135.63 L63.37,135.86 L63.67,136.09 L63.96,136.32 L64.26,136.54 L64.56,136.75 L64.86,136.96 L65.15,137.17 L65.45,137.37 L65.75,137.57 L66.04,137.77 L66.34,137.97 L66.64,138.16 L66.93,138.35 L67.23,138.53 L67.53,138.71 L67.82,138.89 L68.12,139.07 L68.42,139.24 L68.72,139.42 L69.01,139.59 L69.31,139.75 L69.61,139.92 L69.90,140.08 L70.20,140.24 L70.50,140.40 L70.79,140.56 L71.09,140.72 L71.39,140.87 L71.68,141.02 L71.98,141.17 L72.28,141.32 L72.58,141.46 L72.87,141.61 L73.17,141.75 L73.47,141.89 L73.76,142.03 L74.06,142.17 L74.36,142.31 L74.65,142.45 L74.95,142.58 L75.25,142.71 L75.54,142.85 L75.84,142.98 L76.14,143.11 L76.44,143.24 L78.72,144.18 L81.01,145.07 L83.29,145.91 L85.58,146.70 L87.86,147.45 L90.15,148.17 L92.43,148.86 L94.72,149.51 L97.00,150.14 L99.29,150.75 L101.57,151.33 L103.86,151.89 L106.14,152.44 L108.43,152.97 L110.71,153.48 L113.00,153.98 L115.28,154.46 L117.57,154.93 L119.85,155.39 L122.14,155.84 L124.43,156.27 L126.71,156.70 L129.00,157.11 L131.28,157.52 L133.57,157.92 L135.85,158.31 L138.14,158.69 L140.42,159.06 L142.71,159.43 L144.99,159.79 L147.28,160.14 L149.56,160.49 L151.85,160.83 L154.13,161.16 L156.42,161.49 L158.70,161.82 L160.99,162.14 L163.27,162.45 L165.56,162.76 L167.85,163.06 L170.13,163.36 L172.42,163.66 L174.70,163.95 L176.99,164.24 L179.27,164.52 L181.56,164.80 L183.84,165.08 L186.13,165.35 L188.41,165.62 L190.70,165.88 L192.98,166.15 L195.27,166.41 L197.55,166.66 L199.84,166.91 L202.12,167.16 L204.41,167.41 L206.69,167.66 L208.98,167.90 L211.26,168.14 L213.55,168.37 L215.84,168.61 L218.12,168.84 L220.41,169.07 L222.69,169.29 L224.98,169.52 L227.26,169.74 L229.55,169.96 L231.83,170.18 L234.12,170.40 L236.40,170.61 L238.69,170.82 L240.97,171.03 L243.26,171.24 L245.54,171.45 L247.83,171.65 L250.11,171.85 L252.40,172.05 L254.68,172.25 L256.97,172.45 L259.26,172.65 L261.54,172.84 L263.83,173.03 L266.11,173.22 L268.40,173.41 L270.68,173.60 L272.97,173.79 L275.25,173.97 L277.54,174.16 L279.82,174.34 L282.11,174.52 L284.39,174.70 L286.68,174.88 L288.96,175.06 L291.25,175.23 L293.53,175.41 L295.82,175.58 L298.10,175.75 L300.39,175.92 L302.67,176.09 L304.96,176.26 L307.25,176.43 L309.53,176.59 L311.82,176.76 L314.10,176.92 L316.39,177.09 L318.67,177.25 L320.96,177.41 L323.24,177.57 L325.53,177.73 L327.81,177.89 L330.10,178.04 L332.38,178.20 L334.67,178.35 L336.95,178.51 L339.24,178.66 L341.52,178.81 L343.81,178.96 L346.09,179.11 L348.38,179.26 L350.67,179.41 L352.95,179.56 L355.24,179.71 L357.52,179.85 L359.81,180.00 L362.09,180.14 L364.38,180.29 L366.66,180.43 L368.95,180.57 L371.23,180.71 L373.52,180.85 L375.80,180.99 L378.09,181.13 L380.37,181.27 L382.66,181.41 L384.94,181.54 L387.23,181.68 L389.51,181.82 L391.80,181.95 L394.08,182.09 L396.37,182.22 L398.66,182.35 L400.94,182.48 L403.23,182.62 L405.51,182.75 L407.80,182.88 L410.08,183.01 L412.37,183.14 L414.65,183.26 L416.94,183.39 L419.22,183.52 L421.51,183.65 L423.79,183.77 L426.08,183.90 L428.36,184.02 L430.65,184.15 L432.93,184.27 L435.22,184.39 L437.50,184.52 L439.79,184.64 L442.08,184.76 L444.36,184.88 L446.65,185.00 L448.93,185.12 L451.22,185.24 L453.50,185.36 L455.79,185.48 L458.07,185.60 L460.36,185.71 L462.64,185.83 L464.93,185.95 L467.21,186.06 L469.50,186.18 L471.78,186.29 L474.07,186.41 L476.35,186.52 L478.64,186.63 L480.92,186.75 L483.21,186.86 L485.49,186.97 L487.78,187.08 L490.07,187.20 L492.35,187.31 L494.64,187.42 L496.92,187.53 L499.21,187.64 L501.49,187.75 L503.78,187.86 L506.06,187.96 L508.35,188.07 L510.63,188.18 L512.92,188.29 L515.20,188.39 L517.49,188.50 L519.77,188.61 L522.06,188.71 L524.34,188.82 L526.63,188.92 L528.91,189.03 L531.20,189.13" fill="none" stroke="#f0782a" stroke-width="2" stroke-linejoin="round"/>
<path d="M52.50,293.80V288.80M52.50,15.00V20.00M100.37,293.80V291.20M100.37,15.00V17.60M148.24,293.80V288.80M148.24,15.00V20.00M196.11,293.80V291.20M196.11,15.00V17.60M243.98,293.80V288.80M243.98,15.00V20.00M291.85,293.80V291.20M291.85,15.00V17.60M339.72,293.80V288.80M339.72,15.00V20.00M387.59,293.80V291.20M387.59,15.00V17.60M435.46,293.80V288.80M435.46,15.00V20.00M483.33,293.80V291.20M483.33,15.00V17.60M531.20,293.80V288.80M531.20,15.00V20.00M50.00,276.19H55.00M531.20,276.19H526.20M50.00,232.66H52.60M531.20,232.66H528.60M50.00,189.13H55.00M531.20,189.13H526.20M50.00,145.60H52.60M531.20,145.60H528.60M50.00,102.06H55.00M531.20,102.06H526.20M50.00,58.53H52.60M531.20,58.53H528.60M50.00,15.00H55.00M531.20,15.00H526.20" stroke="#222" stroke-width="1.3" fill="none"/>
<line x1="50.0" y1="14.0" x2="50.0" y2="294.8" stroke="#7a7a7a" stroke-width="2"/>
<line x1="49.0" y1="15.0" x2="532.2" y2="15.0" stroke="#606060" stroke-width="1.7"/>
<line x1="531.2" y1="14.0" x2="531.2" y2="294.8" stroke="#2a2a2a" stroke-width="2"/>
<line x1="49.0" y1="293.8" x2="532.2" y2="293.8" stroke="#2a2a2a" stroke-width="2"/>
<text transform="translate(44.6,280.80) scale(0.95,1)" font-family="Liberation Serif, Times New Roman, serif" font-weight="bold" font-size="14" text-anchor="end">0.5</text>
<text transform="translate(44.6,193.73) scale(0.95,1)" font-family="Liberation Serif, Times New Roman, serif" font-weight="bold" font-size="14" text-anchor="end">1.0</text>
<text transform="translate(44.6,106.66) scale(0.95,1)" font-family="Liberation Serif, Times New Roman, serif" font-weight="bold" font-size="14" text-anchor="end">1.5</text>
<text transform="translate(44.6,19.60) scale(0.95,1)" font-family="Liberation Serif, Times New Roman, serif" font-weight="bold" font-size="14" text-anchor="end">2.0</text>
<text transform="translate(52.50,310.8) scale(0.95,1)" font-family="Liberation Serif, Times New Roman, serif" font-weight="bold" font-size="14" text-anchor="middle">0.0</text>
<text transform="translate(148.24,310.8) scale(0.95,1)" font-family="Liberation Serif, Times New Roman, serif" font-weight="bold" font-size="14" text-anchor="middle">0.2</text>
<text transform="translate(243.98,310.8) scale(0.95,1)" font-family="Liberation Serif, Times New Roman, serif" font-weight="bold" font-size="14" text-anchor="middle">0.4</text>
<text transform="translate(339.72,310.8) scale(0.95,1)" font-family="Liberation Serif, Times New Roman, serif" font-weight="bold" font-size="14" text-anchor="middle">0.6</text>
<text transform="translate(435.46,310.8) scale(0.95,1)" font-family="Liberation Serif, Times New Roman, serif" font-weight="bold" font-size="14" text-anchor="middle">0.8</text>
<text transform="translate(531.20,310.8) scale(0.95,1)" font-family="Liberation Serif, Times New Roman, serif" font-weight="bold" font-size="14" text-anchor="middle">1.0</text>
<text x="291" y="328" font-family="Liberation Serif, Times New Roman, serif" font-weight="bold" font-size="14.5" text-anchor="middle">ω</text>
<text transform="translate(22.2,154) rotate(-90)" font-family="Liberation Serif, Times New Roman, serif" font-weight="bold" font-size="14.3" text-anchor="middle">Amplitude</text>
<rect x="378.7" y="23.7" width="136.9" height="54.8" fill="#fff" stroke="#9c9c9c" stroke-width="1"/>
<line x1="380" y1="32.3" x2="408" y2="32.3" stroke="#808080" stroke-width="1.5"/>
<line x1="447" y1="32.3" x2="475.5" y2="32.3" stroke="#808080" stroke-width="1.5" stroke-dasharray="5.3 7"/>
<text x="410.9" y="36.60" font-family="Liberation Serif, Times New Roman, serif" font-size="12">a-P<tspan font-size="8.2" dy="3.0">up</tspan></text>
<text x="477.8" y="36.60" font-family="Liberation Serif, Times New Roman, serif" font-size="12">a-P<tspan font-size="8.2" dy="3.0">down</tspan></text>
<line x1="380" y1="50.0" x2="408" y2="50.0" stroke="#2a86c4" stroke-width="2"/>
<line x1="447" y1="50.0" x2="475.5" y2="50.0" stroke="#2a86c4" stroke-width="2" stroke-dasharray="5.3 7"/>
<text x="410.9" y="54.30" font-family="Liberation Serif, Times New Roman, serif" font-size="12">b-P<tspan font-size="8.2" dy="3.0">up</tspan></text>
<text x="477.8" y="54.30" font-family="Liberation Serif, Times New Roman, serif" font-size="12">b-P<tspan font-size="8.2" dy="3.0">down</tspan></text>
<line x1="380" y1="67.9" x2="408" y2="67.9" stroke="#f0782a" stroke-width="2"/>
<line x1="447" y1="67.9" x2="475.5" y2="67.9" stroke="#f0782a" stroke-width="2" stroke-dasharray="5.3 7"/>
<text x="410.9" y="72.20" font-family="Liberation Serif, Times New Roman, serif" font-size="12">c-P<tspan font-size="8.2" dy="3.0">up</tspan></text>
<text x="477.8" y="72.20" font-family="Liberation Serif, Times New Roman, serif" font-size="12">c-P<tspan font-size="8.2" dy="3.0">down</tspan></text>
</svg>
</body></html>
